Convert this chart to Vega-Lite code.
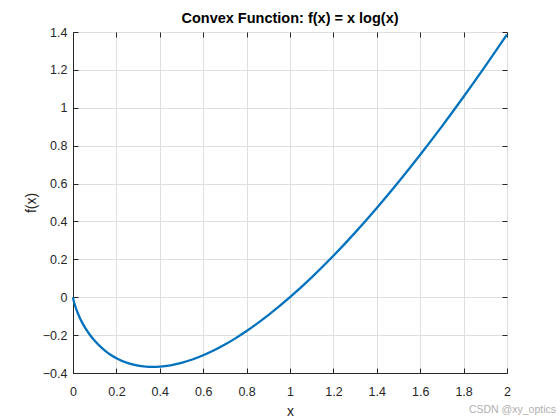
{
  "$schema": "https://vega.github.io/schema/vega-lite/v6.json",
  "autosize": "none",
  "padding": {"left": 73, "top": 32, "right": 53, "bottom": 47},
  "width": 434,
  "height": 341,
  "background": "white",
  "config": {
    "font": "Liberation Sans",
    "view": {"stroke": "#262626", "strokeWidth": 1},
    "axis": {"labelFont": "Liberation Sans", "titleFont": "Liberation Sans", "labelColor": "#262626", "titleColor": "#262626", "labelFontSize": 12.5, "titleFontSize": 14, "titleFontWeight": "normal", "domainColor": "#262626", "tickColor": "#262626", "labelFlush": false, "labelOverlap": false}
  },
  "title": {"text": "Convex Function: f(x) = x log(x)", "fontSize": 14.5, "fontWeight": "bold", "color": "black", "offset": 0, "font": "Liberation Sans"},
  "data": {"values": [
    {"x": 0, "y": 0},
    {"x": 0.0005, "y": -0.0038},
    {"x": 0.001, "y": -0.0069},
    {"x": 0.002, "y": -0.0124},
    {"x": 0.003, "y": -0.0174},
    {"x": 0.004, "y": -0.0221},
    {"x": 0.005, "y": -0.0265},
    {"x": 0.007, "y": -0.0347},
    {"x": 0.01, "y": -0.0461},
    {"x": 0.015, "y": -0.0630},
    {"x": 0.02, "y": -0.0782},
    {"x": 0.03, "y": -0.1052},
    {"x": 0.04, "y": -0.1288},
    {"x": 0.05, "y": -0.1498},
    {"x": 0.06, "y": -0.1688},
    {"x": 0.075, "y": -0.1943},
    {"x": 0.1, "y": -0.2303},
    {"x": 0.125, "y": -0.2599},
    {"x": 0.15, "y": -0.2846},
    {"x": 0.175, "y": -0.3050},
    {"x": 0.2, "y": -0.3219},
    {"x": 0.25, "y": -0.3466},
    {"x": 0.3, "y": -0.3612},
    {"x": 0.35, "y": -0.3674},
    {"x": 0.368, "y": -0.3679},
    {"x": 0.4, "y": -0.3665},
    {"x": 0.45, "y": -0.3593},
    {"x": 0.5, "y": -0.3466},
    {"x": 0.55, "y": -0.3288},
    {"x": 0.6, "y": -0.3065},
    {"x": 0.65, "y": -0.2800},
    {"x": 0.7, "y": -0.2497},
    {"x": 0.75, "y": -0.2158},
    {"x": 0.8, "y": -0.1785},
    {"x": 0.9, "y": -0.0948},
    {"x": 1.0, "y": 0},
    {"x": 1.1, "y": 0.1048},
    {"x": 1.2, "y": 0.2188},
    {"x": 1.3, "y": 0.3411},
    {"x": 1.4, "y": 0.4711},
    {"x": 1.5, "y": 0.6082},
    {"x": 1.6, "y": 0.7520},
    {"x": 1.7, "y": 0.9021},
    {"x": 1.8, "y": 1.0580},
    {"x": 1.9, "y": 1.2195},
    {"x": 2.0, "y": 1.3863}
  ]},
  "resolve": {"axis": {"x": "independent", "y": "independent"}},
  "layer": [
    {
      "mark": {"type": "line", "strokeOpacity": 0},
      "encoding": {
        "x": {"field": "x", "type": "quantitative", "scale": {"domain": [0, 2], "nice": false, "zero": false},
          "axis": {"orient": "top", "values": [0,0.2,0.4,0.6,0.8,1,1.2,1.4,1.6,1.8,2], "labels": false, "title": null, "grid": false, "domain": false, "tickSize": -5}},
        "y": {"field": "y", "type": "quantitative", "scale": {"domain": [-0.4, 1.4], "nice": false, "zero": false},
          "axis": {"orient": "right", "values": [-0.4,-0.2,0,0.2,0.4,0.6,0.8,1,1.2,1.4], "labels": false, "title": null, "grid": false, "domain": false, "tickSize": -5}}
      }
    },
    {
      "mark": {"type": "line", "color": "#0072BD", "strokeWidth": 2.3, "interpolate": "monotone"},
      "encoding": {
        "x": {"field": "x", "type": "quantitative", "scale": {"domain": [0, 2], "nice": false, "zero": false},
          "axis": {"orient": "bottom", "values": [0,0.2,0.4,0.6,0.8,1,1.2,1.4,1.6,1.8,2], "format": "~g", "title": "x", "grid": true, "gridColor": "#dfdfdf", "tickSize": -5, "labelPadding": 17, "titlePadding": 7}},
        "y": {"field": "y", "type": "quantitative", "scale": {"domain": [-0.4, 1.4], "nice": false, "zero": false},
          "axis": {"orient": "left", "values": [-0.4,-0.2,0,0.2,0.4,0.6,0.8,1,1.2,1.4], "format": "~g", "title": "f(x)", "grid": true, "gridColor": "#dfdfdf", "tickSize": -5, "labelPadding": 11, "titlePadding": 4}}
      }
    },
    {
      "data": {"values": [{"label": "CSDN @xy_optics"}]},
      "mark": {"type": "text", "align": "right", "baseline": "middle", "color": "#b0b0b0", "fontSize": 10.5, "dx": 49, "dy": 37, "clip": false},
      "encoding": {
        "x": {"datum": 2, "type": "quantitative", "axis": null},
        "y": {"datum": -0.4, "type": "quantitative", "axis": null},
        "text": {"field": "label"}
      }
    }
  ]
}
